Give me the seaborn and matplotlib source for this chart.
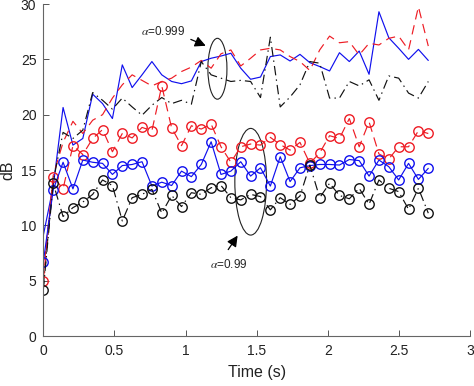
import numpy as np
import pandas as pd
import matplotlib
matplotlib.use("Agg")
import matplotlib.pyplot as plt
from matplotlib.patches import Ellipse
import seaborn as sns

# time axis (40 samples)
time_s = np.arange(40) * 0.0694

# alpha = 0.999 (no markers)
blue_top = [9.1, 13.5, 20.65, 17.25, 17.85, 21.85, 21.0, 19.65, 24.5, 22.45,
            23.6, 24.8, 23.6, 23.0, 22.8, 23.05, 24.8, 25.1, 25.3, 25.55,
            24.2, 23.2, 23.4, 25.25, 25.4, 24.85, 25.45, 24.7, 24.35, 23.95,
            25.6, 24.8, 25.75, 23.65, 29.3, 26.95, 26.0, 25.0, 25.9, 24.9]
red_top = [5.5, 14.5, 17.5, 19.4, 18.3, 19.5, 20.0, 21.5, 22.7, 23.6,
           23.1, 22.6, 23.0, 23.3, 23.9, 24.3, 24.9, 24.2, 25.5, 25.85,
           24.4, 25.1, 25.85, 26.0, 25.85, 25.25, 24.8, 24.0, 25.85, 27.1,
           26.5, 26.6, 25.4, 26.45, 26.3, 26.9, 27.1, 25.85, 29.75, 26.2]
black_top = [4.5, 14.0, 18.4, 17.85, 18.6, 22.0, 21.3, 20.5, 21.5, 20.7,
             19.95, 20.85, 21.55, 21.0, 21.3, 20.95, 24.8, 23.6, 23.3, 23.0,
             23.1, 23.0, 21.55, 27.0, 20.7, 21.6, 22.7, 24.8, 24.65, 21.5,
             21.5, 23.0, 22.6, 23.15, 21.3, 23.5, 23.3, 21.95, 21.5, 23.0]

# alpha = 0.99 (circle markers)
red_low = [5.0, 14.4, 13.3, 17.2, 16.4, 17.85, 18.65, 16.65, 18.3, 17.9,
           18.85, 18.55, 22.6, 18.8, 17.2, 19.0, 18.7, 19.15, 17.1, 15.7,
           17.1, 17.35, 17.25, 17.95, 17.3, 16.8, 17.5, 15.6, 16.55, 18.1,
           17.85, 19.65, 17.1, 19.35, 16.45, 16.0, 17.1, 17.1, 18.55, 18.3]
blue_low = [6.7, 13.2, 15.7, 13.3, 15.9, 15.7, 15.6, 14.6, 15.4, 15.5,
            15.75, 13.55, 13.9, 13.6, 14.9, 14.4, 15.5, 17.55, 14.6, 14.9,
            15.75, 14.45, 15.2, 13.55, 16.2, 13.95, 15.2, 15.4, 15.5, 15.5,
            15.45, 15.95, 15.85, 14.45, 15.9, 15.3, 14.1, 15.6, 14.15, 15.15]
black_low = [4.16, 13.8, 10.8, 11.6, 12.1, 12.8, 14.1, 13.6, 10.4, 12.5,
             12.8, 13.25, 11.1, 12.7, 11.7, 12.95, 12.8, 13.4, 13.6, 12.5,
             12.3, 12.8, 12.6, 11.4, 12.5, 11.9, 12.65, 15.45, 12.5, 13.8,
             12.7, 12.4, 13.35, 11.9, 14.1, 13.35, 13.05, 11.45, 13.35, 11.1]

sns.set_style("ticks")
plt.rcParams['font.family'] = ['Liberation Sans', 'DejaVu Sans']
plt.rcParams['mathtext.fontset'] = 'stix'

fig = plt.figure(figsize=(4.74, 3.86), dpi=100)
ax = fig.add_axes([0.0914, 0.1295, 0.9002, 0.8601])

lw = 0.85
styles = [
    (blue_top, '#1010ee', None, None),
    (red_top, '#ee1c24', (8, 5), None),
    (black_top, '#111111', (8, 3.5, 1.2, 3.5), None),
    (red_low, '#ee1c24', (8, 5), 'o'),
    (blue_low, '#1010ee', None, 'o'),
    (black_low, '#111111', (8, 3.5, 1.2, 3.5), 'o'),
]
for vals, col, dash, mk in styles:
    df = pd.DataFrame({'t': time_s, 'dB': vals})
    kw = dict(color=col, linewidth=lw, ax=ax)
    if mk:
        kw.update(marker=mk, markersize=6.8, markerfacecolor='none',
                  markeredgecolor=col, markeredgewidth=1.0)
    line = sns.lineplot(data=df, x='t', y='dB', **kw).lines[-1]
    if dash is not None:
        line.set_dashes(dash)

# annotations
ax.add_patch(Ellipse((1.224, 24.15), 0.134, 5.5, fill=False,
                     edgecolor='#222222', linewidth=0.8))
ax.add_patch(Ellipse((1.458, 13.94), 0.223, 9.64, fill=False,
                     edgecolor='#222222', linewidth=0.8))
ax.annotate('', xy=(1.16, 26.13), xytext=(1.019, 26.9),
            arrowprops=dict(arrowstyle='-|>', color='black', lw=0.9,
                            mutation_scale=16))
ax.annotate('', xy=(1.377, 9.28), xytext=(1.289, 7.6),
            arrowprops=dict(arrowstyle='-|>', color='black', lw=0.9,
                            mutation_scale=16))
ax.text(0.84, 27.55, r'$\alpha$=0.999', fontsize=8.5, ha='center', va='center')
ax.text(1.306, 6.5, r'$\alpha$=0.99', fontsize=8.5, ha='center', va='center')

ax.set_xlim(0, 3)
ax.set_ylim(0, 30)
ax.set_xticks(np.arange(0, 3.01, 0.5))
ax.set_xticklabels(['0', '0.5', '1', '1.5', '2', '2.5', '3'])
ax.set_yticks(np.arange(0, 31, 5))
ax.set_xlabel('Time (s)', fontsize=11.5, labelpad=5, color='#222222')
ax.set_ylabel('dB', fontsize=11.5, labelpad=4, color='#222222')
ax.tick_params(direction='in', length=4, width=0.7, colors='#555555',
               labelsize=10, labelcolor='#222222')
ax.tick_params(axis='x', pad=6)
ax.tick_params(axis='y', pad=5)
sns.despine(ax=ax)
for s in ('left', 'bottom'):
    ax.spines[s].set_color('#666666')
    ax.spines[s].set_linewidth(0.8)

fig.savefig('out.png', dpi=100)
